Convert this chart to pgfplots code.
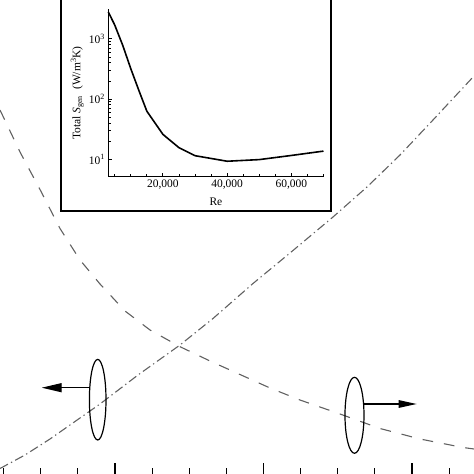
\documentclass[border=0pt]{standalone}
\usepackage{pgfplots}
\pgfplotsset{compat=1.18}
\usepackage{fontspec}
\setmainfont{Liberation Serif}
\usetikzlibrary{arrows.meta}
\begin{document}
\begin{tikzpicture}
\path[use as bounding box] (0,0) rectangle (474bp,474bp);
% main (cropped) axis
\begin{axis}[
  at={(0,0)}, anchor=south west,
  scale only axis, width=474bp, height=474bp,
  xmin=4512, xmax=68350, ymin=0, ymax=474,
  axis x line*=bottom, axis y line=none,
  x axis line style={draw=none},
  scaled x ticks=false,
  xtick={20000,40000,60000},
  minor xtick={5000,10000,15000,25000,30000,35000,45000,50000,55000,65000},
  xticklabels=\empty,
  tick align=inside,
  major tick length=10.7bp, minor tick length=6.3bp,
  every tick/.style={black, line width=1.1bp},
  clip=true,
]
\addplot[black!62, line width=1.1bp, dash pattern=on 10.7bp off 11bp] coordinates {
(4512,364) (7206,322) (9899,284.5) (12593,245.5) (15286,214) (17980,190)
(21347,163) (24714,144) (28754,127.3) (32795,113) (36835,99.5) (40876,86)
(44916,74) (50303,60) (55690,45.5) (61078,35) (66869,26.5) (68350,25)
};
\addplot[black!62, line width=1.1bp, dash pattern=on 9bp off 3.5bp on 1.3bp off 3.5bp] coordinates {
(4512,5.5) (7879,19) (11246,35) (14613,52.5) (17980,70) (23098,99)
(28754,129) (33199,155.5) (38586,190.5) (43569,221) (49360,257)
(53940,287) (58384,319) (62828,354) (68350,398)
};
\draw[line width=1.2bp] (axis cs:17670,74.3) ellipse [x radius=8.3bp, y radius=40.3bp];
\draw[line width=1.2bp] (axis cs:52255,58.7) ellipse [x radius=9.5bp, y radius=38bp];
\draw[line width=1.3bp, -{Triangle[length=20bp,width=9bp]}] (axis cs:16539,86.3) -- (axis cs:10128,86.3);
\draw[line width=1.3bp, -{Triangle[length=18bp,width=7.5bp]}] (axis cs:53536,70) -- (axis cs:60633,70);
\end{axis}
% inset frame
\fill[white] (60.7bp,262.7bp) rectangle (331bp,475bp);
\draw[line width=1.8bp] (60.7bp,476bp) -- (60.7bp,262.7bp) -- (331bp,262.7bp) -- (331bp,476bp);
\draw[line width=2.2bp, black!25] (60.7bp,474.6bp) -- (331bp,474.6bp);
% inset axis
\begin{axis}[
  at={(108.3bp,297.3bp)}, anchor=south west,
  scale only axis, width=215.2bp, height=167.4bp,
  xmin=3000, xmax=70000, ymode=log, ymin=5.15, ymax=3100,
  axis lines*=left,
  axis line style={line width=1.2bp},
  tick align=inside,
  scaled x ticks=false,
  xtick={20000,40000,60000},
  xticklabels={{20,000},{40,000},{60,000}},
  minor xtick={5000,10000,15000,25000,30000,35000,45000,50000,55000,65000,70000},
  ytick={10,100,1000},
  yticklabels={10\textsuperscript{1},10\textsuperscript{2},10\textsuperscript{3}},
  major tick length=3.5bp, minor tick length=2.8bp,
  every tick/.style={black, line width=0.9bp},
  tick label style={font=\fontsize{11.5bp}{13bp}\selectfont},
  label style={font=\fontsize{11.5bp}{13bp}\selectfont},
  xlabel={Re},
  ylabel={Total \textit{S}\textsubscript{gen}\ \ (W/m\textsuperscript{3}K)},
  xlabel style={yshift=-1bp},
  ylabel style={yshift=-2bp},
  clip=false,
]
\addplot[black, line width=1.6bp] coordinates {
(3000,2800) (5000,1700) (7500,780) (10000,320) (12500,140) (15000,63)
(20000,26) (25000,15.6) (30000,11.5) (40000,9.3) (50000,9.9) (60000,11.6) (70000,13.7)
};
\end{axis}
\end{tikzpicture}
\end{document}
